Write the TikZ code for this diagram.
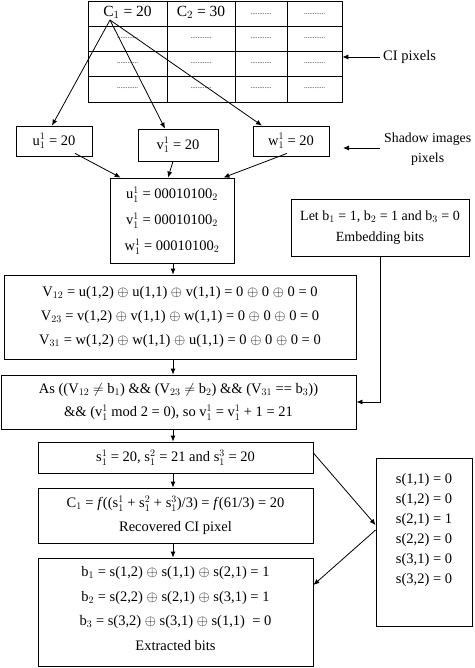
\documentclass[tikz,border=0pt]{standalone}
\usepackage{fontspec}
\setmainfont{Liberation Serif}
\usetikzlibrary{arrows.meta}
\begin{document}
\begin{tikzpicture}[x=1pt,y=-1pt,
  font=\fontsize{14.5}{17}\selectfont,
  box/.style={draw, line width=0.8pt, inner sep=0pt, align=center},
  txt/.style={inner sep=0pt, align=center},
  dots/.style={inner sep=0pt, font=\fontsize{7}{8}\selectfont},
  arr/.style={-{Latex[length=6pt,width=5pt]}, line width=0.8pt},
  ln/.style={line width=0.8pt}]
\useasboundingbox (0,0) rectangle (474,668);
% table
\node[draw, line width=0.6pt, minimum width=254pt, minimum height=101pt, inner sep=0pt] (tab) at (215,51.5) {};
\foreach \yy in {26,51,76} \draw[line width=0.6pt] (tab.west |- 0,\yy) -- (tab.east |- 0,\yy);
\foreach \xx in {167,235,287} \draw[line width=0.6pt] (tab.north -| \xx,0) -- (tab.south -| \xx,0);
\node[txt, font=\fontsize{15.5}{18}\selectfont] (c1) at (127.5,12) {C$_1$ = 20};
\node[txt, font=\fontsize{15.5}{18}\selectfont] (c2) at (201,12) {C$_2$ = 30};
\node[dots] (d13) at (261,14) {............};
\node[dots] (d14) at (314.5,14) {............};
\foreach \r/\yy in {2/38,3/63,4/88}{
  \node[dots] (d\r1) at (127.5,\yy) {............};
  \node[dots] (d\r2) at (201,\yy) {............};
  \node[dots] (d\r3) at (261,\yy) {............};
  \node[dots] (d\r4) at (314.5,\yy) {............};
}
\coordinate (c1p) at (110,20);
% CI pixels
\node[txt, anchor=west] (cit) at (383,57) {CI pixels};
\draw[arr] ([xshift=-3pt]cit.west) -- (cit.west -| tab.east);
% shadow pixels
\node[box, minimum width=76pt, minimum height=30pt] (u) at (54,141) {u$_1^1$ = 20};
\node[box, minimum width=80pt, minimum height=32pt] (v) at (178,145) {v$_1^1$ = 20};
\node[box, minimum width=76pt, minimum height=30pt] (w) at (291,141) {w$_1^1$ = 20};
\draw[arr] (c1p) -- ([xshift=-2pt]u.north);
\draw[arr] (c1p) -- ([xshift=-13pt]v.north);
\draw[arr] (c1p) -- ([xshift=-29pt]w.north);
\node[txt, anchor=west, font=\fontsize{13.8}{20}\selectfont] (sht) at (384,149) {Shadow images\\pixels};
\coordinate (shA) at (343,148);
\draw[arr] ([xshift=-4pt,yshift=1pt]sht.west) -- (shA);
% binary box
\node[box, minimum width=124pt, minimum height=85pt, font=\fontsize{14.5}{26}\selectfont] (bin) at (172,220.5)
  {u$_1^1$ = 00010100$_2$\\v$_1^1$ = 00010100$_2$\\w$_1^1$ = 00010100$_2$};
\draw[arr] ([xshift=21pt,yshift=3pt]u.south) -- ([xshift=11pt]bin.north west);
\draw[arr] ([xshift=-5pt]v.south) -- ([xshift=-4pt]bin.north);
\draw[arr] ([xshift=-4pt,yshift=3pt]w.south) -- ([xshift=-11pt]bin.north east);
% embedding bits
\node[box, minimum width=178pt, minimum height=57pt, font=\fontsize{14}{21}\selectfont] (emb) at (380,227.5)
  {Let b$_1$ = 1, b$_2$ = 1 and b$_3$ = 0\\Embedding bits};
% V box
\coordinate (xa) at (173,0);
\node[box, minimum width=352pt, minimum height=84pt, font=\fontsize{14.5}{24}\selectfont] (V) at (180,317)
  {V$_{12}$ = u(1,2) $\oplus$ u(1,1) $\oplus$ v(1,1) = 0 $\oplus$ 0 $\oplus$ 0 = 0\\
   V$_{23}$ = v(1,2) $\oplus$ v(1,1) $\oplus$ w(1,1) = 0 $\oplus$ 0 $\oplus$ 0 = 0\\
   V$_{31}$ = w(1,2) $\oplus$ w(1,1) $\oplus$ u(1,1) = 0 $\oplus$ 0 $\oplus$ 0 = 0};
\draw[arr] (bin.south -| xa) -- (V.north -| xa);
% As box
\node[box, minimum width=355pt, minimum height=54pt, font=\fontsize{14.5}{23}\selectfont] (As) at (178.5,402)
  {As ((V$_{12}$ $\neq$ b$_1$) \&\& (V$_{23}$ $\neq$ b$_2$) \&\& (V$_{31}$ == b$_3$))\\
   \&\& (v$_1^1$ mod 2 = 0), so v$_1^1$ = v$_1^1$ + 1 = 21};
\draw[arr] (V.south -| xa) -- (As.north -| xa);
\draw[arr] (emb.south) |- (As.east);
% s box
\node[box, minimum width=275pt, minimum height=31pt] (s) at (175.5,457.5)
  {s$_1^1$ = 20, s$_1^2$ = 21 and s$_1^3$ = 20};
\draw[arr] (As.south -| xa) -- (s.north -| xa);
% C1 box
\node[box, minimum width=275pt, minimum height=55pt, font=\fontsize{14.5}{24}\selectfont] (C) at (175.5,515.5)
  {C$_1$ = \textit{f}((s$_1^1$ + s$_1^2$ + s$_1^3$)/3) = \textit{f}(61/3) = 20\\Recovered CI pixel};
\draw[arr] (s.south -| xa) -- (C.north -| xa);
% b box
\node[box, minimum width=275pt, minimum height=108pt] (b) at (175.5,612) {};
\node[txt, font=\fontsize{14.5}{24.5}\selectfont] (bt) at (175.5,608.5)
  {b$_1$ = s(1,2) $\oplus$ s(1,1) $\oplus$ s(2,1) = 1\\
   b$_2$ = s(2,2) $\oplus$ s(2,1) $\oplus$ s(3,1) = 1\\
   b$_3$ = s(3,2) $\oplus$ s(3,1) $\oplus$ s(1,1)\ \ = 0\\
   Extracted bits};
\draw[arr] (C.south -| xa) -- (b.north -| xa);
% s(i,j) box
\node[box, minimum width=96pt, minimum height=168pt] (sij) at (424,542) {};
\node[txt, font=\fontsize{14.5}{20}\selectfont] (sijt) at (424,530)
  {s(1,1) = 0\\s(1,2) = 0\\s(2,1) = 1\\s(2,2) = 0\\s(3,1) = 0\\s(3,2) = 0};
\draw[arr] ([yshift=4.5pt]s.east) -- ([yshift=17pt]sij.west);
\draw[arr] ([yshift=12pt]sij.west) -- ([yshift=27pt]b.east);
\end{tikzpicture}
\end{document}
